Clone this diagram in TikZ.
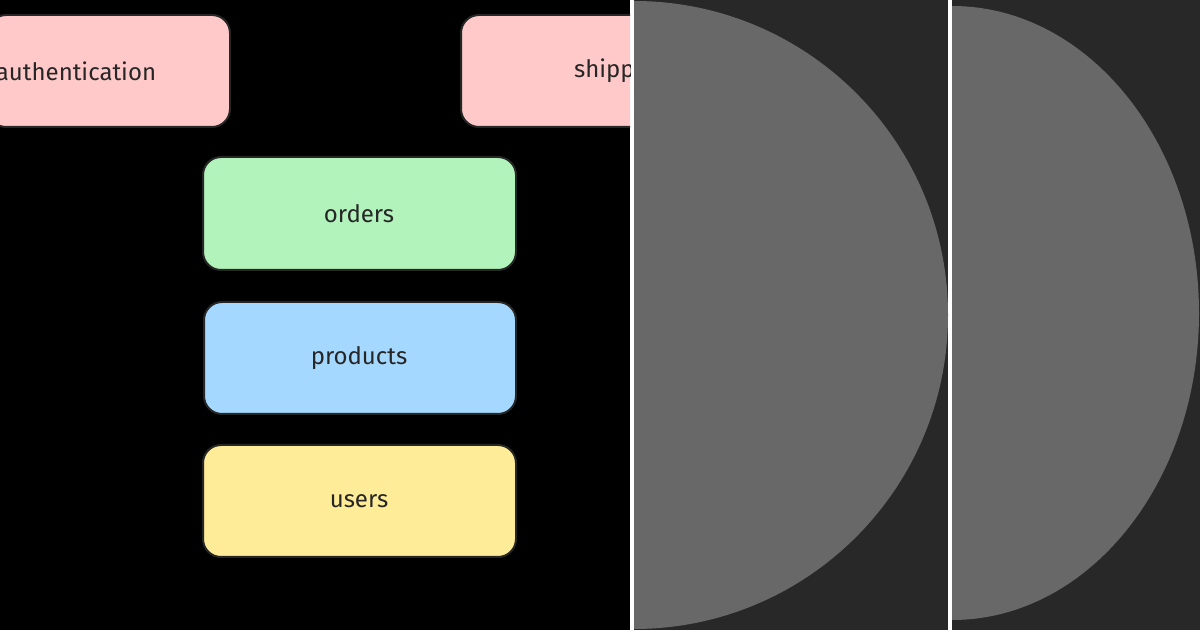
\documentclass[tikz,border=0pt]{standalone}
\usepackage{fontspec}
\setmainfont{Fira Sans}
\begin{document}
\begin{tikzpicture}[x=0.5pt,y=-0.5pt,
  box/.style={draw=black!85,line width=1pt,rounded corners=9pt,inner sep=0pt},
  lbl/.style={font=\fontsize{12}{12}\selectfont,text=black!85}]
\definecolor{pnl}{HTML}{282828}
\definecolor{disc}{HTML}{686868}
\definecolor{pk}{HTML}{FFC9C9}
\definecolor{gr}{HTML}{B2F2BB}
\definecolor{bl}{HTML}{A5D8FF}
\definecolor{yl}{HTML}{FFEC99}
\useasboundingbox (0,0) rectangle (1200,630);
\fill[black] (0,0) rectangle (630,630);
\fill[white] (630,0) rectangle (1200,630);
\fill[pnl] (634,0) rectangle (948,630);
\fill[pnl] (952,0) rectangle (1200,630);
\begin{scope}
\clip (634,0) rectangle (948,630);
\fill[disc] (634,315) circle [radius=314];
\end{scope}
\begin{scope}
\clip (952,0) rectangle (1200,630);
\fill[disc] (952,313) ellipse [x radius=247, y radius=307];
\end{scope}
\begin{scope}
\clip (0,0) rectangle (630,630);
\filldraw[box,fill=pk] (-12,15) rectangle (230,127);
\node[lbl] (auth) at (76,71) {authentication};
\filldraw[box,fill=pk] (461,15) rectangle (680,127);
\node[lbl,anchor=west] (ship) at (567,71) {shipping};
\end{scope}
\filldraw[box,fill=gr] (203,157) rectangle (516,270);
\node[lbl] (orders) at (359,214) {orders};
\filldraw[box,fill=bl] (204,302) rectangle (516,414);
\node[lbl] (products) at (359,358) {products};
\filldraw[box,fill=yl] (203,445) rectangle (516,557);
\node[lbl] (users) at (359,501) {users};
\end{tikzpicture}
\end{document}
